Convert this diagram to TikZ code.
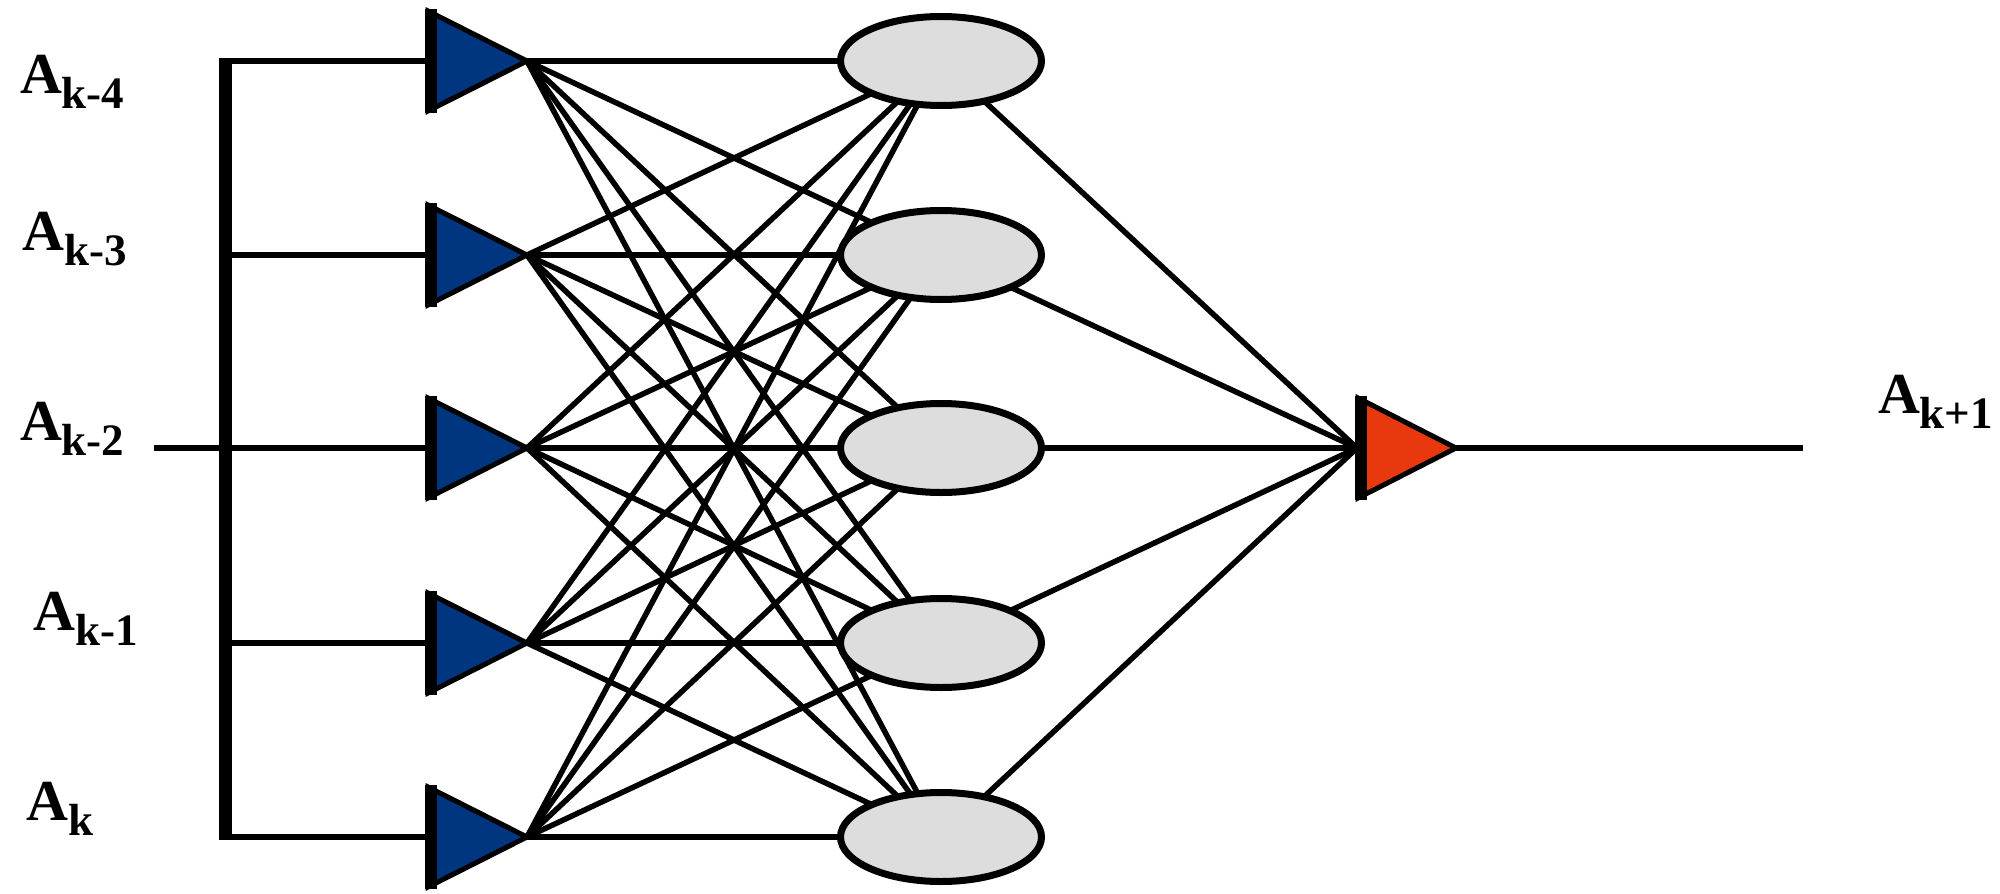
\documentclass[tikz,border=0pt]{standalone}
\usepackage{fontspec}
\setmainfont{Liberation Serif}
\usetikzlibrary{shapes.geometric}
\definecolor{navy}{RGB}{0,53,128}
\definecolor{redt}{RGB}{232,56,14}
\definecolor{cellgray}{RGB}{221,221,221}
\newcommand{\alab}[1]{\fontsize{58}{58}\selectfont\bfseries A\raisebox{-15pt}{\fontsize{45}{45}\selectfont #1}}
\pgfdeclarelayer{bg}
\pgfsetlayers{bg,main}
\begin{document}
\begin{tikzpicture}[x=1pt,y=-1pt,
  bus/.style={line width=13pt},
  wire/.style={line width=6pt},
  link/.style={line width=5.5pt},
  tri/.style={draw=black, line width=5pt, fill=navy},
  redtri/.style={draw=black, line width=5pt, fill=redt},
  bar/.style={line width=12pt},
  cell/.style={ellipse, draw=black, line width=7pt, fill=cellgray,
    minimum width=201pt, minimum height=89pt, inner sep=0pt},
  lbl/.style={anchor=base west, inner sep=0pt, outer sep=0pt}]
\useasboundingbox (0,0) rectangle (2000,894);

% input triangles and cells
\foreach \i/\y in {1/61,2/255,3/448,4/643,5/837}{
  \coordinate (in\i) at (425,\y);
  \coordinate (t\i) at (527,\y);
  \filldraw[tri] (428,\y-50) -- (t\i) -- (428,\y+50) -- cycle;
  \draw[bar] (431,\y-52) -- (431,\y+52);
  \node[cell] (e\i) at (941,\y) {};
}

% output triangle
\coordinate (r) at (1357,448);
\coordinate (rt) at (1456,448);
\coordinate (out) at (1803,448);
\filldraw[redtri] (1358,398) -- (rt) -- (1358,498) -- cycle;
\draw[bar] (1361,396) -- (1361,500);

% source line and bus
\coordinate (src) at (154,448);
\coordinate (bt) at (225,58);
\coordinate (bb) at (225,840);

\begin{pgfonlayer}{bg}
  \draw[bus] (bt) -- (bb);
  \foreach \i in {1,2,4,5}{ \draw[wire] (225,0 |- in\i) -- (in\i); }
  \draw[wire] (src) -- (in3);
  \foreach \i in {1,...,5}{
    \foreach \j in {1,...,5}{
      \ifnum\i=\j
        \draw[wire] (t\i) -- (e\j.center);
      \else
        \draw[link] (t\i) -- (e\j.center);
      \fi
    }
    \ifnum\i=3
      \draw[wire] (e\i.center) -- (r);
    \else
      \draw[link] (e\i.center) -- (r);
    \fi
  }
  \draw[wire] (rt) -- (out);
\end{pgfonlayer}

% labels
\node[lbl] (l1) at (20,93)  {\alab{k-4}};
\node[lbl] (l2) at (23,250) {\alab{k-3}};
\node[lbl] (l3) at (20,440) {\alab{k-2}};
\node[lbl] (l4) at (34,630) {\alab{k-1}};
\node[lbl] (l5) at (27,820) {\alab{k}};
\node[lbl] (l6) at (1878,413) {\alab{k+1}};
\end{tikzpicture}
\end{document}
